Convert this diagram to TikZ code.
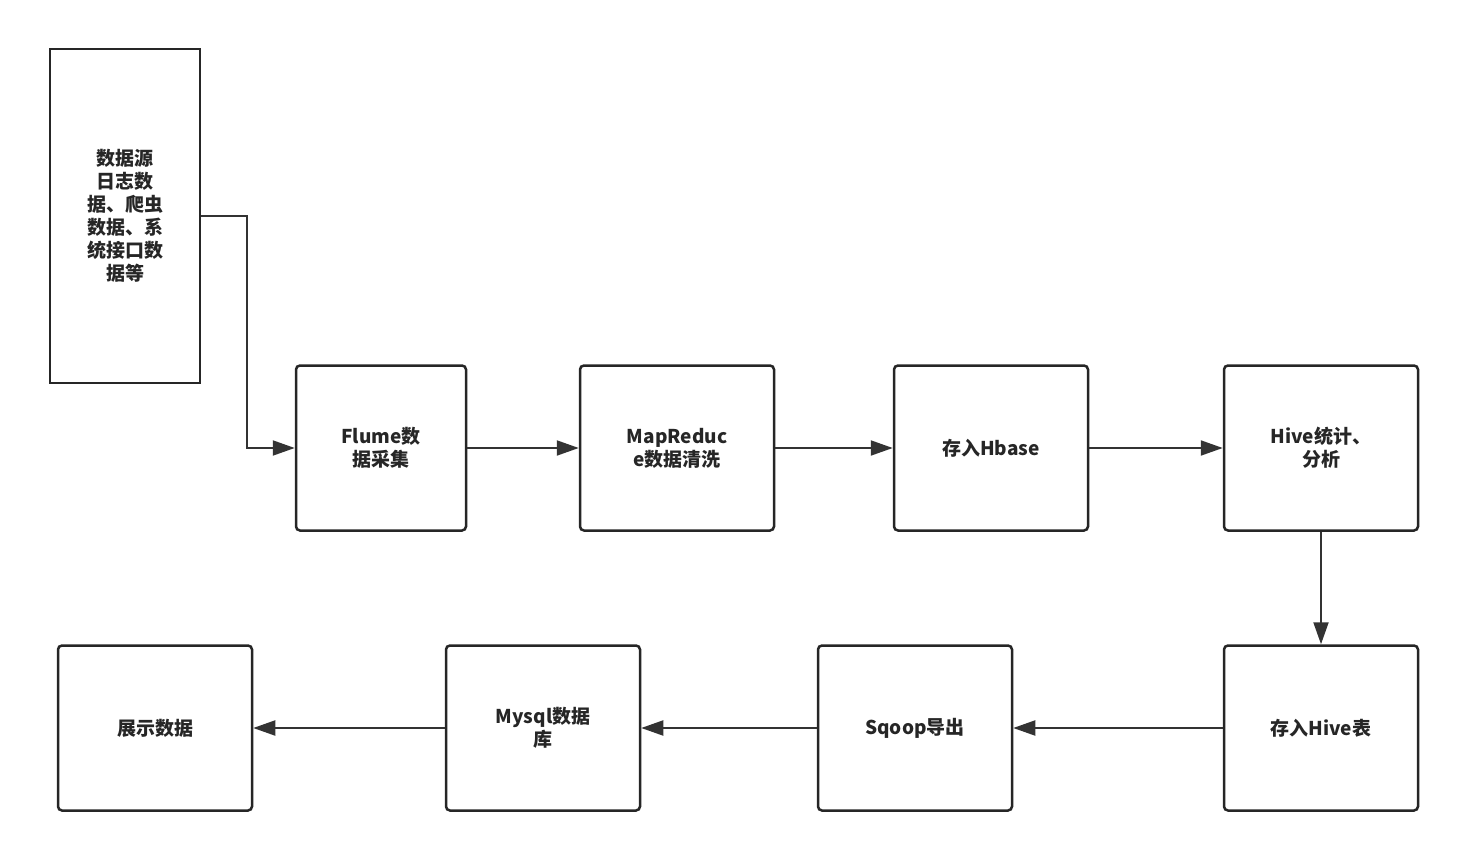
\documentclass[tikz,border=0pt]{standalone}
\usepackage{fontspec}
\setmainfont{Noto Sans CJK SC}
\usetikzlibrary{arrows.meta}
\begin{document}
\begin{tikzpicture}[x=1pt,y=-1pt,
 box/.style={draw=black!85,line width=2.5pt,rounded corners=4pt,align=center,font=\fontsize{19}{23}\selectfont\bfseries,text=black!85},
 arr/.style={draw=black!80,line width=2pt,-{Triangle[length=22pt,width=15pt]}}]
\useasboundingbox (0,0) rectangle (1468,861);
\node[box,rounded corners=0pt,minimum width=150pt,minimum height=334pt] (src) at (125,216) {数据源\\日志数\\据、爬虫\\数据、系\\统接口数\\据等};
\node[box,minimum width=170pt,minimum height=165pt] (flume) at (381,448) {Flume数\\据采集};
\node[box,minimum width=194pt,minimum height=165pt] (mr) at (677,448) {MapReduc\\e数据清洗};
\node[box,minimum width=194pt,minimum height=165pt] (hb) at (991,448) {存入Hbase};
\node[box,minimum width=194pt,minimum height=165pt] (hive) at (1321,448) {Hive统计、\\分析};
\node[box,minimum width=194pt,minimum height=165pt] (hivet) at (1321,728) {存入Hive表};
\node[box,minimum width=194pt,minimum height=165pt] (sq) at (915,728) {Sqoop导出};
\node[box,minimum width=194pt,minimum height=165pt] (my) at (543,728) {Mysql数据\\库};
\node[box,minimum width=194pt,minimum height=165pt] (show) at (155,728) {展示数据};
\coordinate (c1) at (247,216);
\coordinate (c2) at (247,448);
\draw[arr] (src.east |- c1) -- (c1) -- (c2) -- (flume.west);
\draw[arr] (flume) -- (mr);
\draw[arr] (mr) -- (hb);
\draw[arr] (hb) -- (hive);
\draw[arr] (hive) -- (hivet);
\draw[arr] (hivet) -- (sq);
\draw[arr] (sq) -- (my);
\draw[arr] (my) -- (show);
\end{tikzpicture}
\end{document}
